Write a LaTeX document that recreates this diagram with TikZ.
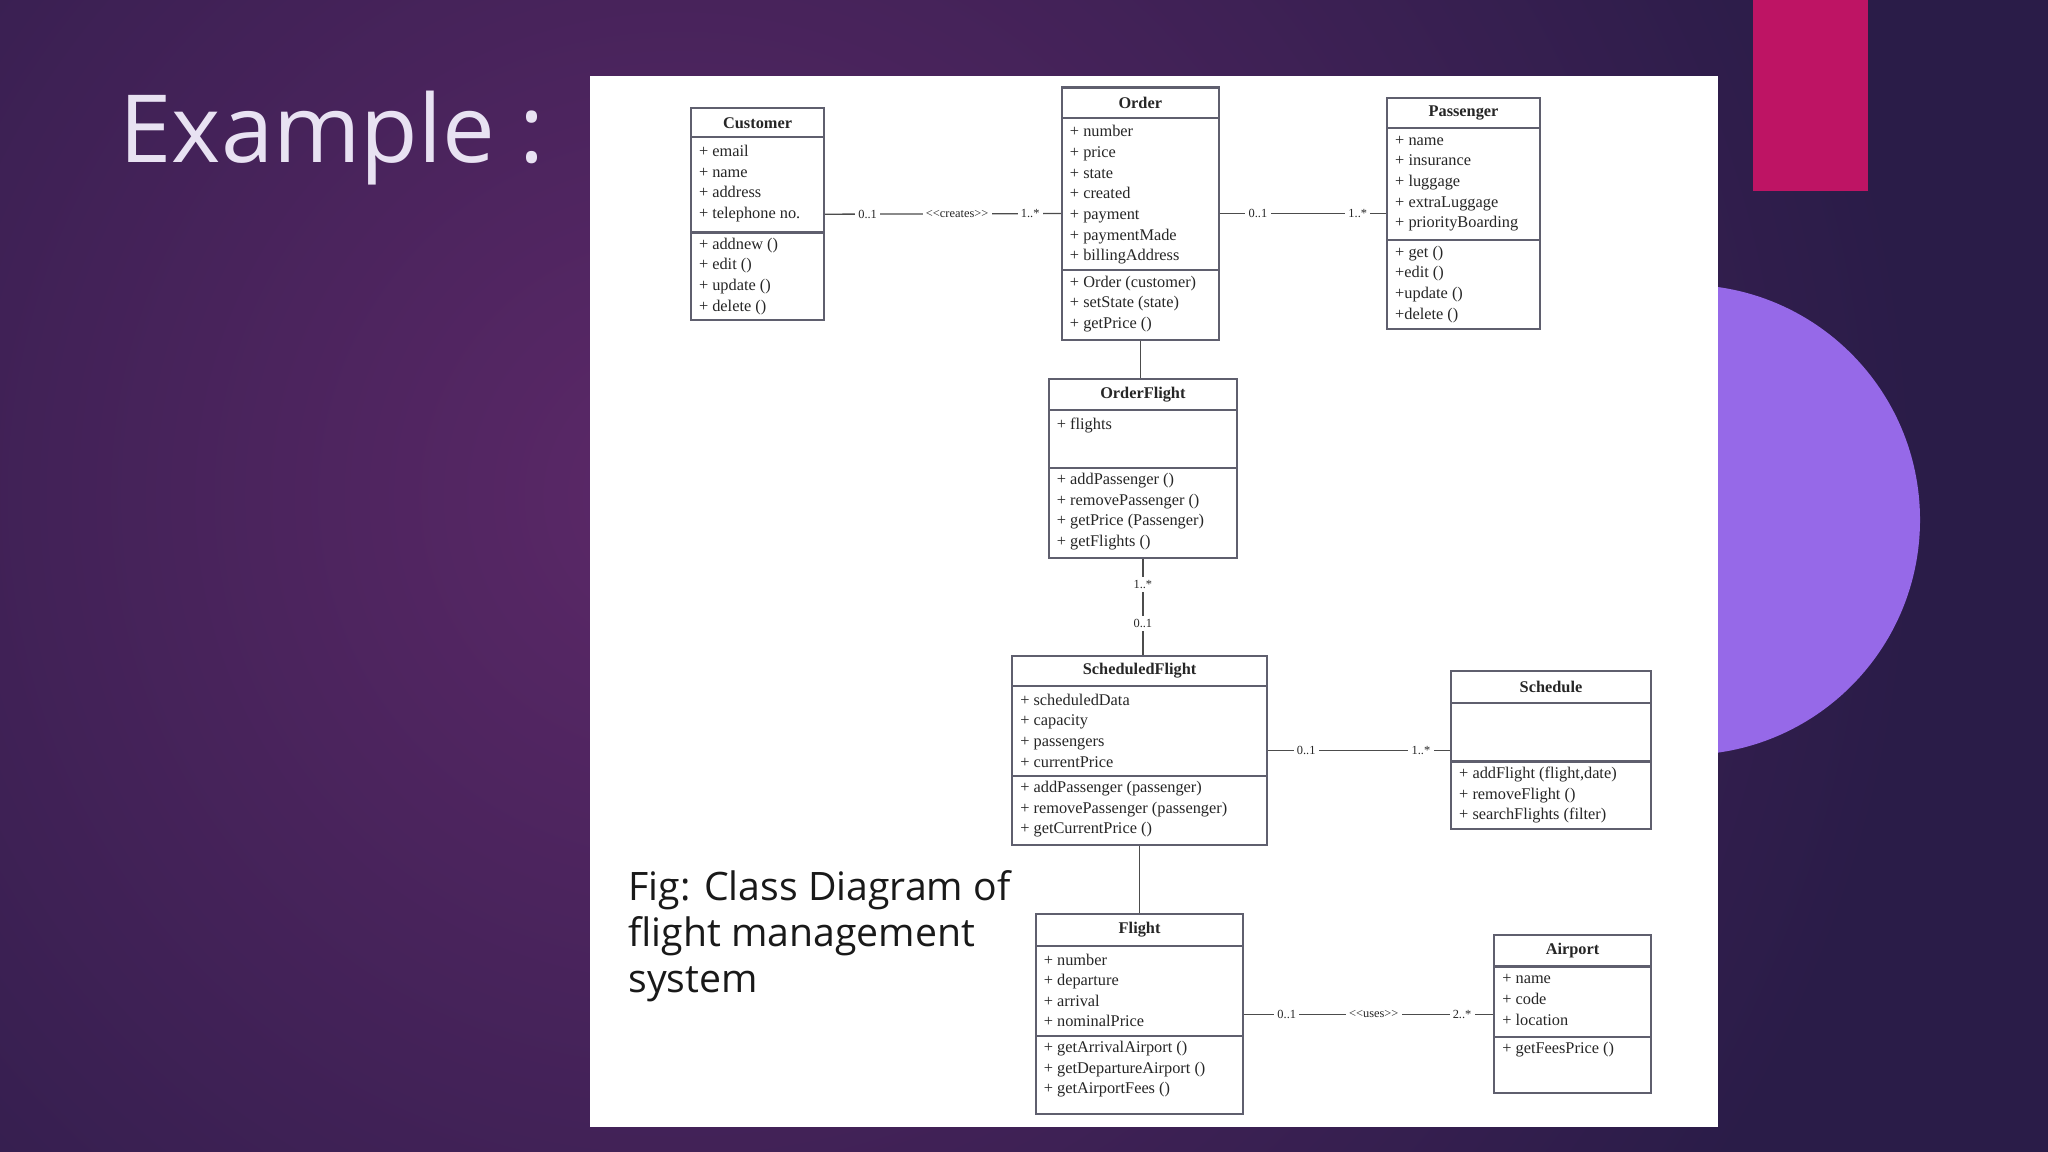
\documentclass[tikz,border=0pt]{standalone}
\usepackage{fontspec}
\setmainfont{Liberation Serif}
\newfontfamily\capfont{Open Sans}
\usetikzlibrary{fit}
\definecolor{bgA}{RGB}{92,40,104}
\definecolor{bgB}{RGB}{42,28,72}
\definecolor{mag}{RGB}{190,20,100}
\definecolor{lav}{RGB}{150,105,232}
\definecolor{boxc}{RGB}{95,95,110}
\definecolor{titlec}{RGB}{232,226,242}
\tikzset{
  cbox/.style={draw=boxc, line width=1.6pt, inner sep=0pt},
  sep/.style={draw=boxc, line width=1.6pt},
  txt/.style={anchor=north west, align=left, inner sep=0pt, font=\fontsize{12.5}{15.8}\selectfont, text=black!85},
  ttl/.style={font=\fontsize{12.5}{13}\selectfont\bfseries, text=black!85},
  conn/.style={draw=black!70, line width=1pt},
  lbl/.style={fill=white, inner sep=2.5pt, font=\fontsize{9.5}{10}\selectfont, text=black!85}
}
% name, x1, y1, x2, y2, ytitle, yattr, title, attrs
\newcommand\cls[9]{%
  \node[cbox, fit={(#2,#3) (#4,#5)}] (#1) {};
  \draw[sep] (#2,#6) -- (#4,#6);
  \draw[sep] (#2,#7) -- (#4,#7);
  \node[ttl] (#1-t) at ({(#2+#4)/2}, {(#3+#6)/2}) {#8};
  \node[txt] (#1-a) at (#2+6, #6+6) {#9};
}
\newcommand\meth[4]{\node[txt] (#1-m) at (#2+6, #3+4) {#4};}
\begin{document}
\begin{tikzpicture}[x=1pt,y=-1pt]
\useasboundingbox (0,0) rectangle (1568,882);
\fill[bgB] (0,0) rectangle (1568,882);
\shade[inner color=bgA, outer color=bgB] (520,380) circle (950);
\fill[lav] (1290,398) circle (180);
\fill[mag] (1342,0) rectangle (1430,146);
\fill[white] (452,58) rectangle (1315,863);
\node[text=titlec, font=\capfont\fontsize{72}{72}\selectfont, anchor=west] (ex) at (88,106) {Example :};
\node[anchor=north west, align=left, inner sep=0pt, font=\capfont\fontsize{30}{35.5}\selectfont, text=black!90] (cap) at (481,666) {Fig: Class Diagram of\\flight management\\system};

\cls{cust}{529}{83}{631}{245}{105}{178}{Customer}{+ email\\+ name\\+ address\\+ telephone no.}
\meth{cust}{529}{178}{+ addnew ()\\+ edit ()\\+ update ()\\+ delete ()}
\cls{ord}{813}{67}{933}{260}{90}{207}{Order}{+ number\\+ price\\+ state\\+ created\\+ payment\\+ paymentMade\\+ billingAddress}
\meth{ord}{813}{207}{+ Order (customer)\\+ setState (state)\\+ getPrice ()}
\cls{pass}{1062}{75}{1179}{252}{98}{184}{Passenger}{+ name\\+ insurance\\+ luggage\\+ extraLuggage\\+ priorityBoarding}
\meth{pass}{1062}{184}{+ get ()\\+edit ()\\+update ()\\+delete ()}
\cls{ofl}{803}{290}{947}{427}{314}{358}{OrderFlight}{+ flights}
\meth{ofl}{803}{358}{+ addPassenger ()\\+ removePassenger ()\\+ getPrice (Passenger)\\+ getFlights ()}
\cls{sfl}{775}{502}{970}{647}{525}{594}{ScheduledFlight}{+ scheduledData\\+ capacity\\+ passengers\\+ currentPrice}
\meth{sfl}{775}{594}{+ addPassenger (passenger)\\+ removePassenger (passenger)\\+ getCurrentPrice ()}
\cls{sch}{1111}{514}{1264}{635}{538}{583}{Schedule}{}
\meth{sch}{1111}{583}{+ addFlight (flight,date)\\+ removeFlight ()\\+ searchFlights (filter)}
\cls{fl}{793}{700}{952}{853}{724}{793}{Flight}{+ number\\+ departure\\+ arrival\\+ nominalPrice}
\meth{fl}{793}{793}{+ getArrivalAirport ()\\+ getDepartureAirport ()\\+ getAirportFees ()}
\cls{ap}{1144}{716}{1264}{837}{740}{794}{Airport}{+ name\\+ code\\+ location}
\meth{ap}{1144}{794}{+ getFeesPrice ()}

\draw[conn] (cust.east) -- node[lbl, pos=.18] {0..1} node[lbl, pos=.56] {{<}{<}creates{>}{>}} node[lbl, pos=.87] {1..*} (ord.west);
\draw[conn] (ord.east) -- node[lbl, pos=.23] {0..1} node[lbl, pos=.83] {1..*} (pass.west);
\draw[conn] (ord.south) -- (ord.south |- ofl.north);
\draw[conn] (ofl.south) -- node[lbl, pos=.27] {1..*} node[lbl, pos=.68] {0..1} (ofl.south |- sfl.north);
\draw[conn] (sfl.east) -- node[lbl, pos=.21] {0..1} node[lbl, pos=.84] {1..*} (sch.west);
\draw[conn] (sfl.south) -- (sfl.south |- fl.north);
\draw[conn] (fl.east) -- node[lbl, pos=.17] {0..1} node[lbl, pos=.52] {{<}{<}uses{>}{>}} node[lbl, pos=.875] {2..*} (ap.west);
\end{tikzpicture}
\end{document}
